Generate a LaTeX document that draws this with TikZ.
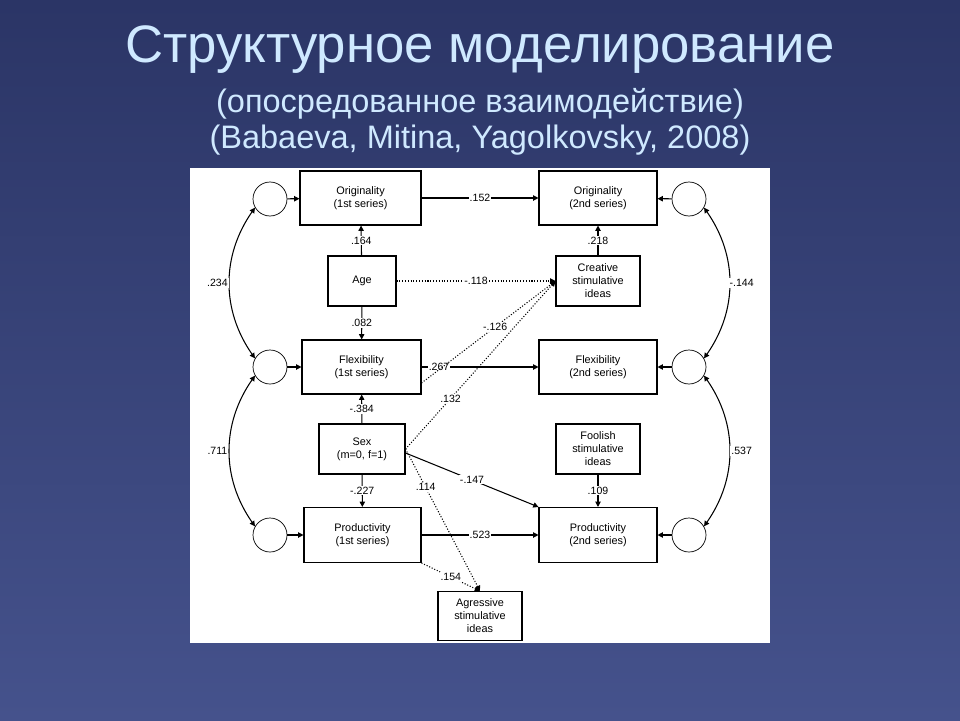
\documentclass[tikz,border=0pt]{standalone}
\usepackage{fontspec}
\setmainfont{Liberation Sans}
\usetikzlibrary{arrows.meta}
\definecolor{slidebg}{HTML}{45528C}
\definecolor{slidedark}{HTML}{2B3566}
\definecolor{titleblue}{HTML}{CFE9FF}
\tikzset{
  var/.style={draw, semithick, fill=white, align=center, font=\fontsize{6.2}{7.4}\selectfont, inner sep=0pt},
  err/.style={draw, circle, minimum size=34*0.02cm, inner sep=0pt},
  path/.style={-{Triangle[length=3pt,width=3pt]}, semithick},
  dpath/.style={path, densely dotted},
  coef/.style={fill=white, inner sep=0.5pt, font=\fontsize{6}{7}\selectfont},
}
\begin{document}
\begin{tikzpicture}[x=0.02cm, y=-0.02cm]

    % Background of the slide
    \shade[top color=slidedark, bottom color=slidebg] (0,0) rectangle (960,720);
    \useasboundingbox (0,0) rectangle (960,720);

    % Title
    \node[text=titleblue, font=\fontsize{30}{36}\selectfont] (title) at (480,50) {Структурное моделирование};
    \node[text=titleblue, font=\fontsize{18.5}{22}\selectfont] (sub1) at (480,104) {(опосредованное взаимодействие)};
    \node[text=titleblue, font=\fontsize{18.5}{22}\selectfont] (sub2) at (480,140) {(Babaeva, Mitina, Yagolkovsky, 2008)};

    % White panel
    \fill[white] (190,168) rectangle (770,643);

    % Observed variables
    \node[var, minimum width=121*0.02cm, minimum height=54*0.02cm] (orig1) at (360.5,198) {Originality\\(1st series)};
    \node[var, minimum width=118*0.02cm, minimum height=54*0.02cm] (orig2) at (598,198) {Originality\\(2nd series)};
    \node[var, minimum width=68*0.02cm, minimum height=50*0.02cm] (age) at (362,281) {Age};
    \node[var, minimum width=84*0.02cm, minimum height=50*0.02cm] (creat) at (598,281) {Creative\\stimulative\\ideas};
    \node[var, minimum width=119*0.02cm, minimum height=54*0.02cm] (flex1) at (361.5,367) {Flexibility\\(1st series)};
    \node[var, minimum width=118*0.02cm, minimum height=54*0.02cm] (flex2) at (598,367) {Flexibility\\(2nd series)};
    \node[var, minimum width=86*0.02cm, minimum height=50*0.02cm] (sex) at (362,449) {Sex\\(m=0, f=1)};
    \node[var, minimum width=84*0.02cm, minimum height=50*0.02cm] (fool) at (598,449) {Foolish\\stimulative\\ideas};
    \node[var, minimum width=117*0.02cm, minimum height=55*0.02cm] (prod1) at (362.5,535) {Productivity\\(1st series)};
    \node[var, minimum width=118*0.02cm, minimum height=55*0.02cm] (prod2) at (598,535) {Productivity\\(2nd series)};
    \node[var, minimum width=84*0.02cm, minimum height=49*0.02cm] (aggr) at (480,616) {Agressive\\stimulative\\ideas};

    % Residuals
    \node[err] (eo1) at (270,199) {};
    \node[err] (ef1) at (270,367) {};
    \node[err] (ep1) at (270,535) {};
    \node[err] (eo2) at (689,199) {};
    \node[err] (ef2) at (689,367) {};
    \node[err] (ep2) at (689,535) {};

    \draw[path] (eo1) -- (orig1);
    \draw[path] (ef1) -- (flex1);
    \draw[path] (ep1) -- (prod1);
    \draw[path] (eo2) -- (orig2);
    \draw[path] (ef2) -- (flex2);
    \draw[path] (ep2) -- (prod2);

    % Correlations between residuals
    \draw[{Triangle[length=3pt,width=3pt]}-{Triangle[length=3pt,width=3pt]}, semithick]
        (eo1.210) to[out=235, in=125] node[coef, pos=0.5, xshift=-7pt] {.234} (ef1.150);
    \draw[{Triangle[length=3pt,width=3pt]}-{Triangle[length=3pt,width=3pt]}, semithick]
        (ef1.210) to[out=235, in=125] node[coef, pos=0.5, xshift=-7pt] {.711} (ep1.150);
    \draw[{Triangle[length=3pt,width=3pt]}-{Triangle[length=3pt,width=3pt]}, semithick]
        (eo2.330) to[out=-55, in=55] node[coef, pos=0.5, xshift=7pt] {-.144} (ef2.30);
    \draw[{Triangle[length=3pt,width=3pt]}-{Triangle[length=3pt,width=3pt]}, semithick]
        (ef2.330) to[out=-55, in=55] node[coef, pos=0.5, xshift=7pt] {.537} (ep2.30);

    % Paths
    \draw[path] (orig1) -- node[coef] {.152} (orig2);
    \draw[path] (flex1) -- node[coef, pos=0.15] {.267} (flex2);
    \draw[path] (prod1) -- node[coef] {.523} (prod2);
    \draw[path] (age) -- node[coef] {.164} (orig1);
    \draw[path] (age) -- node[coef] {.082} (flex1);
    \draw[path] (creat) -- node[coef] {.218} (orig2);
    \draw[path] (fool) -- node[coef] {.109} (prod2);
    \draw[path] (sex) -- node[coef] {-.384} (flex1);
    \draw[path] (sex) -- node[coef] {-.227} (prod1);
    \draw[path] (sex.east) ++(0,4) coordinate (sexout) -- node[coef] {-.147} (prod2.north west);
    \draw[dpath] (age) -- node[coef] {-.118} (creat.west);
    \draw[dpath] (flex1.east) ++(0,16) coordinate (flexout) -- node[coef, pos=0.55] {-.126} (creat.west);
    \draw[dpath] (sex.east) -- node[coef, pos=0.3] {.132} (creat.west);
    \draw[dpath] (sex.east) -- node[coef, pos=0.27] {.114} (aggr.north);
    \draw[dpath] (prod1.south east) -- node[coef] {.154} (aggr.north);

\end{tikzpicture}
\end{document}
